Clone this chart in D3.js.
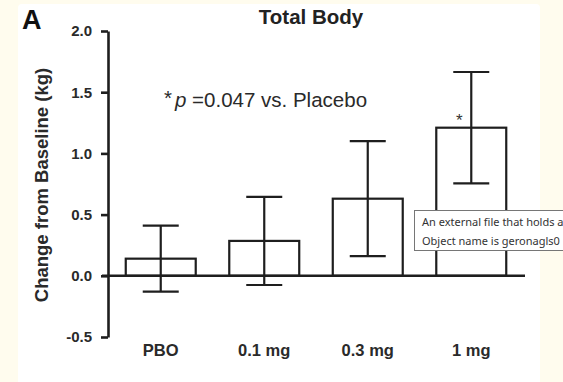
<!DOCTYPE html>
<html>
<head>
<meta charset="utf-8">
<script src="https://cdn.jsdelivr.net/npm/d3@7"></script>
<style>
  html, body { margin: 0; padding: 0; overflow: hidden; background: #fffcee; }
  #wrap { position: relative; width: 563px; height: 382px; overflow: hidden; }
  svg { position: absolute; left: 0; top: 0; }
  .tip {
    position: absolute; left: 414px; top: 210px; width: 149px; height: 41px;
    background: #fff; border: 1px solid #767676; border-right: none; box-sizing: border-box;
    font-family: "Noto Sans", "Open Sans", sans-serif; font-size: 11px; color: #333;
    padding: 2px 0 0 7px; line-height: 18.5px; white-space: nowrap; overflow: hidden;
  }
</style>
</head>
<body>
<div id="wrap"></div>
<script>
const categories = ["PBO", "0.1 mg", "0.3 mg", "1 mg"];
const means = [0.14, 0.285, 0.63, 1.21];
const errors = [0.27, 0.36, 0.47, 0.455];
const significant = [false, false, false, true];
const yTicks = [-0.5, 0.0, 0.5, 1.0, 1.5, 2.0];
const title = "Total Body";
const panelLabel = "A";
const yLabel = "Change from Baseline (kg)";
const tooltipLines = ["An external file that holds a", "Object name is geronagls0"];

const W = 563, H = 382;
const ink = "#1e1e1e";
const font = "'Liberation Sans', Arial, Helvetica, sans-serif";

const wrap = d3.select("#wrap");
const svg = wrap.append("svg").attr("width", W).attr("height", H);

// white figure panel
svg.append("rect").attr("x", 18).attr("y", 4).attr("width", 522).attr("height", 390)
  .attr("rx", 4).attr("fill", "#ffffff");

const y = d3.scaleLinear().domain([-0.5, 2.0]).range([337, 31]);
const x = d3.scaleBand().domain(categories).range([74, 558]).paddingInner(0.324).paddingOuter(0.5);
const bw = x.bandwidth();
const capW = 36;

// y axis
const fmt = d => d3.format(".1f")(d).replace("\u2212", "-");
const yAxis = d3.axisLeft(y).tickValues(yTicks).tickFormat(fmt)
  .tickSize(7).tickSizeOuter(0).tickPadding(9);
const gy = svg.append("g").attr("transform", "translate(108,0)").call(yAxis);
gy.select(".domain").attr("stroke", ink).attr("stroke-width", 2.6);
gy.selectAll(".tick line").attr("stroke", ink).attr("stroke-width", 2.6);
gy.selectAll(".tick text").attr("fill", "#2a2a2a").attr("font-family", font)
  .attr("font-weight", "bold").attr("font-size", 15);

// bars
svg.append("g").selectAll("rect").data(categories).join("rect")
  .attr("x", d => x(d)).attr("width", bw)
  .attr("y", (d, i) => y(Math.max(0, means[i])))
  .attr("height", (d, i) => Math.abs(y(means[i]) - y(0)))
  .attr("fill", "#fff").attr("stroke", ink).attr("stroke-width", 2.2);

// zero baseline
svg.append("line").attr("x1", 102).attr("x2", 525).attr("y1", y(0)).attr("y2", y(0))
  .attr("stroke", ink).attr("stroke-width", 2.6);

// error bars
const eb = svg.append("g").attr("stroke", ink).attr("stroke-width", 2.2);
categories.forEach((c, i) => {
  const cx = x(c) + bw / 2;
  const lo = y(means[i] - errors[i]), hi = y(means[i] + errors[i]);
  eb.append("line").attr("x1", cx).attr("x2", cx).attr("y1", lo).attr("y2", hi);
  eb.append("line").attr("x1", cx - capW / 2).attr("x2", cx + capW / 2).attr("y1", lo).attr("y2", lo);
  eb.append("line").attr("x1", cx - capW / 2).attr("x2", cx + capW / 2).attr("y1", hi).attr("y2", hi);
});

// significance stars
categories.forEach((c, i) => {
  if (!significant[i]) return;
  svg.append("text").attr("x", x(c) + bw / 2 - 12).attr("y", y(means[i]) - 2)
    .attr("text-anchor", "middle").attr("font-family", font).attr("font-size", 17)
    .attr("fill", "#333").text("*");
});

// x labels
svg.append("g").selectAll("text").data(categories).join("text")
  .attr("x", d => x(d) + bw / 2).attr("y", 356).attr("text-anchor", "middle")
  .attr("font-family", font).attr("font-weight", "bold").attr("font-size", 16.5)
  .attr("fill", "#2a2a2a").text(d => d);

// title
svg.append("text").attr("x", 311).attr("y", 24).attr("text-anchor", "middle")
  .attr("font-family", font).attr("font-weight", "bold").attr("font-size", 20.5)
  .attr("fill", "#222").text(title);

// panel label
svg.append("text").attr("x", 22).attr("y", 29)
  .attr("font-family", font).attr("font-weight", "bold").attr("font-size", 27)
  .attr("fill", "#111").text(panelLabel);

// y label
svg.append("text").attr("transform", "translate(48,185) rotate(-90)")
  .attr("text-anchor", "middle").attr("font-family", font).attr("font-weight", "bold")
  .attr("font-size", 18.5).attr("fill", "#2a2a2a").text(yLabel);

// annotation
const ann = svg.append("text").attr("x", 164).attr("y", 107)
  .attr("font-family", font).attr("font-size", 20.5).attr("fill", "#2a2a2a");
ann.append("tspan").attr("dy", -2).text("*");
ann.append("tspan").attr("dy", 2).attr("dx", 3).attr("font-style", "italic").text("p");
ann.append("tspan").text(" =0.047 vs. Placebo");

// tooltip overlay
const tip = wrap.append("div").attr("class", "tip");
tooltipLines.forEach(t => tip.append("div").text(t));
</script>
</body>
</html>
